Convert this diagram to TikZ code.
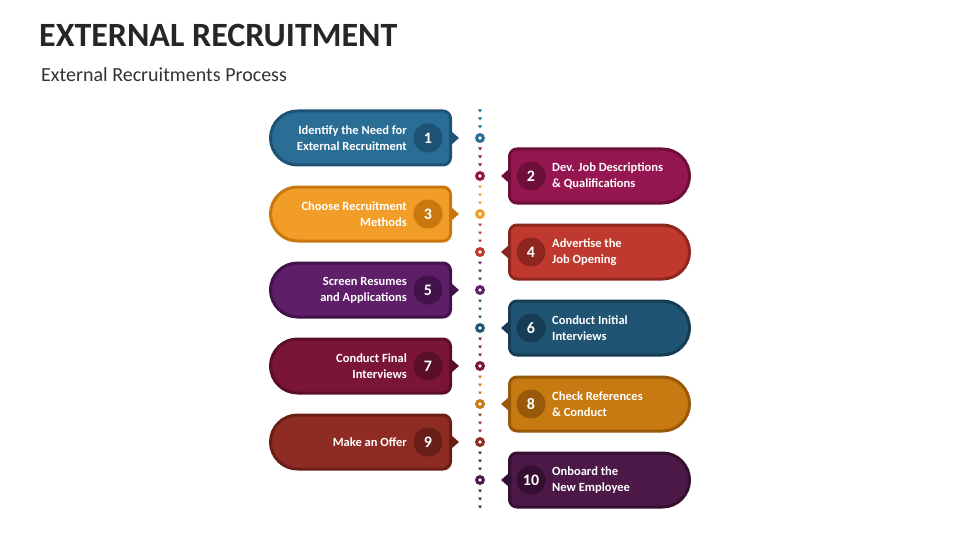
\documentclass[tikz,border=0pt]{standalone}
\usepackage{fontspec}
\setmainfont{Carlito}
\definecolor{bA}{HTML}{2A6E96}\definecolor{dA}{HTML}{1D5274}
\definecolor{bB}{HTML}{951650}\definecolor{dB}{HTML}{6E0F3A}
\definecolor{bC}{HTML}{F29D28}\definecolor{dC}{HTML}{C8780E}
\definecolor{bD}{HTML}{C0392E}\definecolor{dD}{HTML}{8E2620}
\definecolor{bE}{HTML}{5E1E68}\definecolor{dE}{HTML}{42124A}
\definecolor{bF}{HTML}{1F5472}\definecolor{dF}{HTML}{163D55}
\definecolor{bG}{HTML}{7B1538}\definecolor{dG}{HTML}{5A0E28}
\definecolor{bH}{HTML}{C77A12}\definecolor{dH}{HTML}{98590A}
\definecolor{bI}{HTML}{8E2B23}\definecolor{dI}{HTML}{6A1E18}
\definecolor{bJ}{HTML}{4B1848}\definecolor{dJ}{HTML}{340F32}
\tikzset{boxtxt/.style={text=white,font=\fontsize{12.5}{16}\selectfont\bfseries,inner sep=0},
numtxt/.style={text=white,font=\fontsize{16}{16}\selectfont\bfseries}}
\newcommand\lbox[6]{% y, body, dark, num, name, text
 \fill[#3] (451,#1-7) -- (459,#1) -- (451,#1+7) -- cycle;
 \filldraw[fill=#2,draw=#3,line width=3] (297.5,#1-27) -- (443,#1-27) arc[start angle=-90,end angle=0,radius=7.5] -- (450.5,#1+19.5) arc[start angle=0,end angle=90,radius=7.5] -- (297.5,#1+27) arc[start angle=90,end angle=270,radius=27] -- cycle;
 \node[circle,fill=#3,minimum size=29,inner sep=0,numtxt] (n#5) at (428,#1) {#4};
 \node[boxtxt,anchor=east,align=right] (t#5) at (407,#1) {#6};
 \fill[#2] (480,#1) circle[radius=5]; \fill[white] (480,#1) circle[radius=1.8];
 \foreach \d in {27,19,11}{\fill[#2] (478,#1-\d-1.5) -- (482,#1-\d-1.5) -- (480,#1-\d+1.5) -- cycle;}
}
\newcommand\rbox[6]{%
 \fill[#3] (509,#1-7) -- (501,#1) -- (509,#1+7) -- cycle;
 \filldraw[fill=#2,draw=#3,line width=3] (662.5,#1-27) -- (517,#1-27) arc[start angle=270,end angle=180,radius=7.5] -- (509.5,#1+19.5) arc[start angle=180,end angle=90,radius=7.5] -- (662.5,#1+27) arc[start angle=90,end angle=-90,radius=27] -- cycle;
 \node[circle,fill=#3,minimum size=29,inner sep=0,numtxt] (n#5) at (531,#1) {#4};
 \node[boxtxt,anchor=west,align=left] (t#5) at (552,#1) {#6};
 \fill[#2] (480,#1) circle[radius=5]; \fill[white] (480,#1) circle[radius=1.8];
 \foreach \d in {27,19,11}{\fill[#2] (478,#1-\d-1.5) -- (482,#1-\d-1.5) -- (480,#1-\d+1.5) -- cycle;}
}
\begin{document}
\begin{tikzpicture}[x=1pt,y=-1pt]
\useasboundingbox (0,0) rectangle (960,540);
\fill[white] (0,0) rectangle (960,540);
\node[anchor=west,inner sep=0,text=black!85,font=\fontsize{34}{34}\selectfont\bfseries] (title) at (39,35) {EXTERNAL RECRUITMENT};
\node[anchor=west,inner sep=0,text=black!80,font=\fontsize{20}{20}\selectfont] (sub) at (41,75) {External Recruitments Process};
\lbox{138}{bA}{dA}{1}{a}{Identify the Need for\\External Recruitment}
\rbox{176}{bB}{dB}{2}{b}{Dev. Job Descriptions\\\& Qualifications}
\lbox{214}{bC}{dC}{3}{c}{Choose Recruitment\\Methods}
\rbox{252}{bD}{dD}{4}{d}{Advertise the\\Job Opening}
\lbox{290}{bE}{dE}{5}{e}{Screen Resumes\\and Applications}
\rbox{328}{bF}{dF}{6}{f}{Conduct Initial\\Interviews}
\lbox{366}{bG}{dG}{7}{g}{Conduct Final\\Interviews}
\rbox{404}{bH}{dH}{8}{h}{Check References\\\& Conduct}
\lbox{442}{bI}{dI}{9}{i}{Make an Offer}
\rbox{480}{bJ}{dJ}{10}{j}{Onboard the\\New Employee}
\foreach \d in {11,19,27}{\fill[bJ] (478,480+\d-1.5) -- (482,480+\d-1.5) -- (480,480+\d+1.5) -- cycle;}
\end{tikzpicture}
\end{document}
